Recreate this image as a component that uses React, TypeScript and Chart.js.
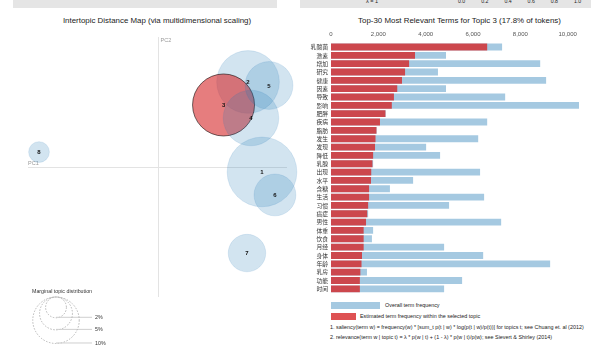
import React, { useEffect, useRef } from "react";
import { Chart, registerables } from "chart.js";
Chart.register(...registerables);

// ---------- data ----------
const topicIds = [1, 2, 3, 4, 5, 6, 7, 8];
const topicPC1 = [0.807, 0.699, 0.51, 0.722, 0.861, 0.907, 0.691, -0.915];
const topicPC2 = [-0.038, 0.654, 0.477, 0.377, 0.627, -0.215, -0.662, 0.115];
const topicShare = [22.5, 18.2, 17.8, 14.3, 10.6, 8.1, 6.5, 2.0];
const selectedTopic = 3;
const guideShares = [2, 5, 10];

const terms = [
  "乳酸菌", "激素", "增加", "研究", "健康", "因素", "导致", "影响", "肥胖", "疾病",
  "脂肪", "发生", "发现", "降低", "乳腺", "出现", "水平", "含糖", "生活", "习惯",
  "癌症", "男性", "体重", "饮食", "月经", "身体", "年龄", "乳房", "功能", "时间",
];
const topicFreq = [
  6600, 3550, 3300, 3130, 3000, 2800, 2660, 2570, 2300, 2070,
  1920, 1880, 1860, 1780, 1750, 1700, 1690, 1610, 1610, 1570,
  1530, 1480, 1380, 1380, 1380, 1310, 1290, 1240, 1220, 1220,
];
const overallFreq = [
  7230, 4860, 8840, 4520, 9090, 4860, 7360, 10480, 2310, 6600,
  1930, 6220, 4020, 4610, 1780, 6300, 3470, 2490, 6470, 4990,
  1570, 7190, 1780, 1730, 4780, 6430, 9260, 1520, 5540, 4780,
];
const freqTicks = [0, 2000, 4000, 6000, 8000, 10000];
const lambdaTicks = ["0.0", "0.2", "0.4", "0.6", "0.8", "1.0"];

const SANS = "'Liberation Sans', Arial, Helvetica, sans-serif";
const CJK = "'Noto Sans CJK SC', 'Noto Sans', sans-serif";
const RADIUS_K = 7.35; // px per sqrt(% of tokens)

const leftPlugin = {
  id: "ldaLeft",
  beforeDatasetsDraw(chart: any) {
    const { ctx, chartArea, scales } = chart;
    const x0 = scales.x.getPixelForValue(0);
    const y0 = scales.y.getPixelForValue(0);
    ctx.save();
    ctx.strokeStyle = "#e3e3e3";
    ctx.lineWidth = 1;
    ctx.beginPath();
    ctx.moveTo(Math.round(x0) + 0.5, chartArea.top);
    ctx.lineTo(Math.round(x0) + 0.5, chartArea.bottom);
    ctx.moveTo(chartArea.left, Math.round(y0) + 0.5);
    ctx.lineTo(chartArea.right, Math.round(y0) + 0.5);
    ctx.stroke();
    ctx.fillStyle = "#9a9a9a";
    ctx.font = `5.5px ${SANS}`;
    ctx.textBaseline = "alphabetic";
    ctx.textAlign = "left";
    ctx.fillText("PC2", x0 + 3, chartArea.top + 5);
    ctx.fillText("PC1", chartArea.left, y0 - 2);

    // marginal topic distribution guide
    const cx = 56;
    const top = chartArea.bottom;
    ctx.fillStyle = "#333";
    ctx.font = `5.3px ${SANS}`;
    ctx.fillText("Marginal topic distribution", 32, top - 4);
    guideShares.forEach((s) => {
      const r = RADIUS_K * Math.sqrt(s);
      ctx.setLineDash([1.5, 1.5]);
      ctx.strokeStyle = "#b5b5b5";
      ctx.beginPath();
      ctx.arc(cx, top + r, r, 0, Math.PI * 2);
      ctx.stroke();
      ctx.setLineDash([]);
      ctx.strokeStyle = "#cfcfcf";
      ctx.beginPath();
      ctx.moveTo(cx, top + 2 * r - 0.5);
      ctx.lineTo(cx + 36, top + 2 * r - 0.5);
      ctx.stroke();
      ctx.fillStyle = "#333";
      ctx.textBaseline = "middle";
      ctx.fillText(`${s}%`, 95, top + 2 * r);
    });
    ctx.restore();
  },
  afterDatasetsDraw(chart: any) {
    const { ctx } = chart;
    const meta = chart.getDatasetMeta(0);
    ctx.save();
    ctx.fillStyle = "#111";
    ctx.font = `bold 6px ${SANS}`;
    ctx.textAlign = "center";
    ctx.textBaseline = "middle";
    meta.data.forEach((el: any, i: number) => {
      ctx.fillText(String(topicIds[i]), el.x, el.y + 0.5);
    });
    ctx.restore();
  },
};

function LeftChart() {
  const ref = useRef<HTMLCanvasElement>(null);
  useEffect(() => {
    const isSel = (i: number) => topicIds[i] === selectedTopic;
    const chart = new Chart(ref.current!, {
      type: "bubble",
      data: {
        datasets: [
          {
            data: topicIds.map((_, i) => ({
              x: topicPC1[i],
              y: topicPC2[i],
              r: RADIUS_K * Math.sqrt(topicShare[i]),
            })),
            backgroundColor: topicIds.map((_, i) =>
              isSel(i) ? "rgba(214,39,40,0.6)" : "rgba(31,119,180,0.2)"
            ),
            borderColor: topicIds.map((_, i) =>
              isSel(i) ? "rgba(0,0,0,0.55)" : "rgba(31,119,180,0.12)"
            ),
            borderWidth: 1,
            clip: false as any,
          },
        ],
      },
      options: {
        responsive: false,
        animation: false,
        layout: { autoPadding: false, padding: { left: 28, right: 13, top: 37, bottom: 55 } },
        plugins: { legend: { display: false }, tooltip: { enabled: false } },
        scales: {
          x: { type: "linear", min: -1, max: 1, display: false },
          y: { type: "linear", min: -1, max: 1, display: false },
        },
      },
      plugins: [leftPlugin],
    });
    return () => chart.destroy();
  }, []);
  return <canvas ref={ref} width={300} height={352} style={{ position: "absolute", left: 0, top: 0 }} />;
}

function RightChart() {
  const ref = useRef<HTMLCanvasElement>(null);
  useEffect(() => {
    const chart = new Chart(ref.current!, {
      type: "bar",
      data: {
        labels: terms,
        datasets: [
          {
            label: "Estimated term frequency within the selected topic",
            data: topicFreq,
            backgroundColor: "rgba(214,39,40,0.8)",
            grouped: false,
            categoryPercentage: 1,
            barPercentage: 0.82,
          } as any,
          {
            label: "Overall term frequency",
            data: overallFreq,
            backgroundColor: "rgba(31,119,180,0.4)",
            grouped: false,
            categoryPercentage: 1,
            barPercentage: 0.82,
          } as any,
        ],
      },
      options: {
        indexAxis: "y",
        responsive: false,
        animation: false,
        layout: { padding: { left: 0, right: 33, top: 30, bottom: 7 } },
        plugins: { legend: { display: false }, tooltip: { enabled: false } },
        scales: {
          x: {
            type: "linear",
            position: "top",
            min: 0,
            max: Math.max(...overallFreq),
            grid: { display: false, drawTicks: false },
            border: { display: false },
            afterBuildTicks: (s: any) => {
              s.ticks = freqTicks.map((v) => ({ value: v }));
            },
            afterFit: (s: any) => {
              s.height = 12.8;
            },
            ticks: {
              padding: 5,
              color: "#555",
              font: { size: 6, family: SANS },
              callback: (v: any) => Number(v).toLocaleString("en-US"),
            },
          },
          y: {
            type: "category",
            grid: { display: false, drawTicks: false },
            border: { display: false },
            afterFit: (s: any) => {
              s.width = 31;
            },
            ticks: {
              padding: 3,
              color: "#333",
              autoSkip: false,
              font: { size: 5.8, family: CJK },
            },
          },
        },
      },
    });
    return () => chart.destroy();
  }, []);
  return <canvas ref={ref} width={312} height={300} style={{ position: "absolute", left: 300, top: 0 }} />;
}

const txt = (extra: React.CSSProperties): React.CSSProperties => ({
  position: "absolute",
  fontFamily: SANS,
  color: "#222",
  whiteSpace: "nowrap",
  lineHeight: 1,
  ...extra,
});

export default function App() {
  return (
    <div style={{ position: "fixed", left: 0, top: 0, width: 612, height: 352, background: "#fff", overflow: "hidden" }}>
      <div style={{ position: "absolute", left: 13, top: 0, width: 264, height: 8, background: "#e5e5e5" }} />
      <div style={{ position: "absolute", left: 300, top: 0, width: 291, height: 8, background: "#e5e5e5" }} />
      <div style={txt({ left: 366, top: -1, fontSize: 5.5 })}>λ = 1</div>
      {lambdaTicks.map((t, i) => (
        <div key={t} style={txt({ left: 458 + i * 23.2, top: -1.5, fontSize: 5.2 })}>{t}</div>
      ))}
      <div style={txt({ left: 0, width: 314, textAlign: "center", top: 17, fontSize: 7.9 })}>
        Intertopic Distance Map (via multidimensional scaling)
      </div>
      <div style={txt({ left: 300, width: 319, textAlign: "center", top: 17, fontSize: 7.9 })}>
        Top-30 Most Relevant Terms for Topic 3 (17.8% of tokens)
      </div>
      <LeftChart />
      <RightChart />
      <div style={{ position: "absolute", left: 331, top: 302, width: 49, height: 7, background: "rgba(31,119,180,0.4)" }} />
      <div style={txt({ left: 385, top: 303, fontSize: 5.4 })}>Overall term frequency</div>
      <div style={{ position: "absolute", left: 331, top: 313, width: 25, height: 7, background: "rgba(214,39,40,0.8)" }} />
      <div style={txt({ left: 360, top: 314, fontSize: 5.4 })}>Estimated term frequency within the selected topic</div>
      <div style={txt({ left: 330, top: 324.5, fontSize: 5.4 })}>
        1. saliency(term w) = frequency(w) * [sum_t p(t | w) * log(p(t | w)/p(t))] for topics t; see Chuang et. al (2012)
      </div>
      <div style={txt({ left: 330, top: 334.5, fontSize: 5.4 })}>
        2. relevance(term w | topic t) = λ * p(w | t) + (1 - λ) * p(w | t)/p(w); see Sievert &amp; Shirley (2014)
      </div>
    </div>
  );
}
